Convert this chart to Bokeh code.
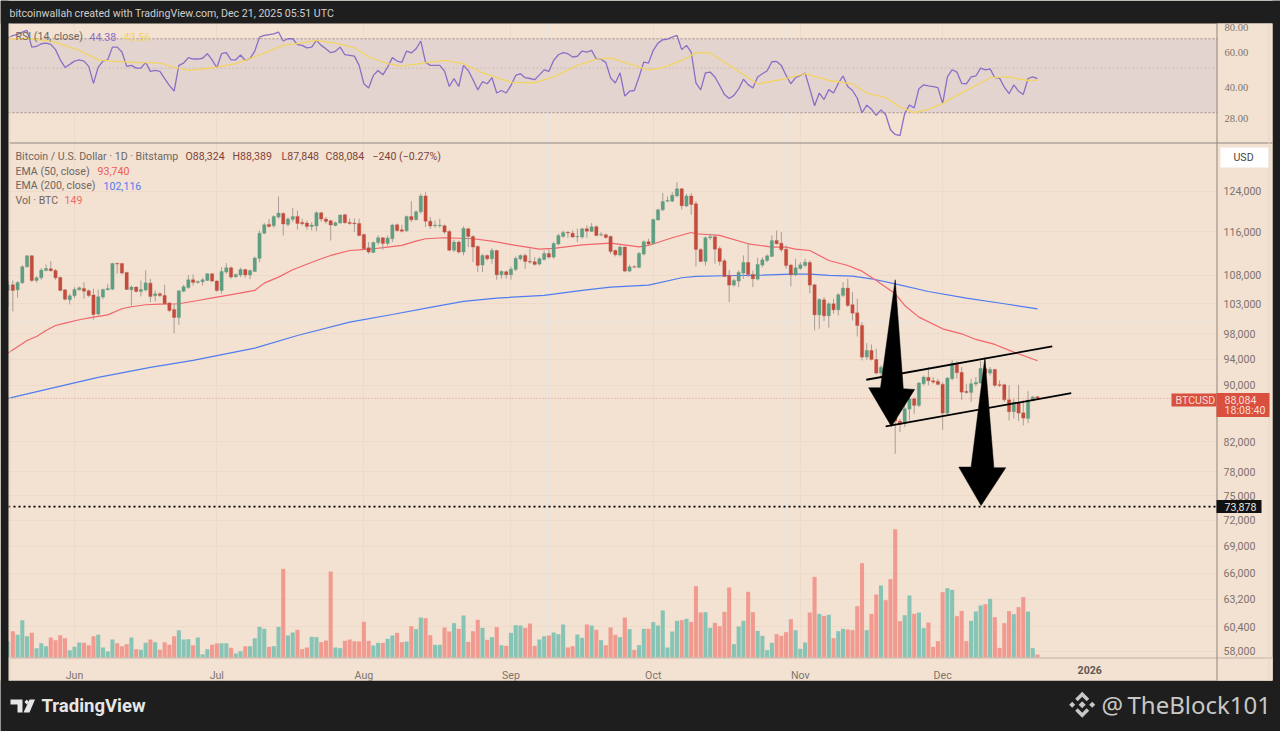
from bokeh.embed import file_html
from bokeh.resources import INLINE
from bokeh.plotting import figure
from bokeh.models import (Range1d, LogScale, LinearScale, FixedTicker, NumeralTickFormatter, BoxAnnotation,
                          Label, LabelSet, ColumnDataSource, PolyAnnotation, LogAxis, LinearAxis, Grid)

# ---------- data ----------
first_day = -14   # days relative to 1 Jun 2025; one candle per day
opens = [105300,106270,105400,106630,109490,111500,107040,107520,108830,109130,108830,107580,105400,103670,
104370,105400,105640,105230,104480,101250,104140,105400,105520,110100,
110100,108470,105400,105870,105110,105350,106570,104370,104710,104430,
103110,102030,100700,105170,105810,107160,106700,106810,107040,108230,
106930,105290,108530,109310,107700,108000,109010,108000,108650,111020,
115750,117440,117180,118870,119590,117440,118420,119000,117820,117700,
117050,117110,119720,118480,118140,117240,117700,119320,117820,117700,
117630,115500,112990,112120,113980,114870,113790,114680,117370,116400,
116200,119000,118330,119910,123100,118070,117180,117180,117180,116070,
112540,114050,112180,116590,115130,113230,109800,111560,110950,112480,
108050,108590,108050,109010,110950,111560,110460,110400,109980,110830,
111930,111260,113670,115130,115950,115750,115000,115000,116590,116070,
116990,115380,115440,115130,112480,111630,113110,108710,109490,109370,
111810,114110,113790,118300,120300,122040,122040,123100,124540,121040,
123100,121500,112660,110460,114870,115060,112860,110580,107940,106220,
106930,108350,110280,108110,107280,109800,110640,111380,114360,113850,
112730,109800,108050,109190,109730,110280,106270,101130,103680,100970,
103000,101970,104430,105700,102830,101470,99370,94310,95350,93940,
91850,92720,91250,86350,84830,84470,86540,88030,87070,90250,
91200,90690,90590,90150,85970,91000,93180,91950,89100,88950,
90200,90350,92510,91850,92400,90100,90100,87880,86160,87550,
86010,85210,87790,88324]
closes = [106280,105290,106700,109490,111500,107040,107520,108890,109190,108770,107520,105290,103790,104370,
105460,105750,105170,104430,101190,104200,105460,105640,110100,109980,
108350,105460,105870,105110,105460,106630,104250,104710,104430,103000,
101860,100700,105230,105930,107160,106700,106870,107160,108230,106930,
105290,108650,109310,107640,108110,109010,108000,108830,111080,115750,
117370,117050,119000,119650,117500,118480,119000,117630,117570,117050,
117310,119720,118480,118020,117310,117760,119260,117760,117630,117570,
115310,112800,112180,113980,114870,113790,114810,117310,116260,116130,
119000,118330,119910,123100,118070,117110,117310,117310,115950,112540,
114050,112180,116660,115130,113110,109730,111560,110950,112480,108050,
108650,108050,109070,111020,111560,110460,110340,109920,110950,111930,
111260,113790,115310,115880,115820,115000,115130,116590,116130,116990,
115310,115500,114930,112290,111690,113110,108710,109490,109430,111930,
114110,113670,118400,120300,121970,122170,123250,124540,121100,123100,
121370,112660,110460,114870,115060,112730,110460,107760,106220,107040,
108470,110280,108110,107340,109920,110760,111500,114360,113730,112600,
109730,108050,109310,109850,110340,106220,101130,103740,100970,103000,
101970,104540,105700,102710,101410,99370,94310,95350,93940,91850,
92720,91350,86350,84830,84370,86590,88030,87070,90350,91250,
90690,90490,90150,85970,91100,93380,91900,89000,88950,90250,
90450,92570,91850,92400,90000,90000,87880,86160,87550,85970,
85260,87790,88300,88084]
highs = [107000,107040,106930,109800,111630,111630,107760,109250,109920,110520,109070,107760,105520,104710,
105870,105990,106750,105460,105580,105400,105580,106450,110220,110220,
110160,108590,106160,105990,107040,108830,107340,105290,105000,106270,
103280,103000,105290,106270,108000,108110,107040,107520,108350,108350,
107160,109430,110160,109550,108230,109310,109130,108950,111380,116260,
117700,118530,119200,122970,119780,118870,120700,120170,118530,118200,
117890,120040,119910,118870,118330,118010,119390,119520,118600,118600,
118530,115630,114050,114170,115310,115000,115310,117570,117570,117370,
119130,122040,120170,123520,123860,118870,118200,118530,117440,116400,
114490,114360,117050,116790,115310,113420,111870,111750,112920,112600,
108830,108830,109550,111380,111750,111870,112800,111260,111260,112480,
112800,114050,115630,116260,116070,116260,116590,116790,117240,117700,
117240,115950,115630,115310,112660,113420,113230,109850,109730,112180,
114360,114680,118530,120500,123720,123000,123860,125930,124750,123520,
123660,122040,112920,115130,115630,115500,113230,110950,108950,107340,
108830,111560,113850,108830,111140,111260,111750,115310,116260,115950,
113420,110040,110950,110340,110950,110640,106450,103970,104140,103280,
103850,104830,106750,107340,105000,103850,99920,96510,96300,95620,
93020,94050,93020,86830,85160,87310,89250,88270,90490,91500,
92770,91250,91000,90490,91250,93890,93690,92770,90250,91000,
91250,93690,94050,92770,92510,90740,90250,90000,88030,90100,
87790,89150,88390,88389]
lows = [102500,101700,104030,106450,109310,106750,106700,107160,108650,108650,107160,105170,103560,102890,
103970,105290,103850,104140,100310,101020,103790,105290,105400,108230,
108110,105400,102660,104940,104250,105110,103280,103390,104140,102890,
101580,98120,99480,104940,105580,106160,106450,106160,106930,106750,
105050,104710,108230,107340,107520,107640,107520,107280,108530,110340,
115500,116790,116790,118530,115310,117050,117870,116400,117240,116400,
116260,116130,117950,117570,114360,117050,117570,117570,117370,116000,
115130,112600,111870,112000,113540,112600,113420,114050,115950,115880,
115950,117890,118200,119520,116920,116590,116790,116790,115630,112350,
112180,111870,111560,113110,110340,108530,108530,110640,110040,107160,
107340,107340,107160,108710,110640,109130,110040,109730,109730,110640,
110950,110950,113420,114870,114870,114870,114050,114680,114870,115950,
115130,115130,114680,111870,111380,111380,108530,108530,109250,109250,
111560,113420,113600,118200,120040,121840,121840,122840,120370,120840,
119320,109550,110340,109730,114490,110040,109730,107640,103280,105990,
105870,107340,107640,105870,107040,109430,110340,111260,113600,112180,
109130,105990,107820,108950,109430,104830,98550,98820,100090,98990,
101300,101020,104140,102430,100200,97580,93790,93890,93790,91650,
91250,88270,85400,80380,83310,84000,84930,85870,86830,90000,
90000,90250,90000,83630,85770,90740,91000,87880,88760,87550,
89850,90250,90250,91500,89750,89750,87550,84930,85160,84830,
84230,84560,87640,87848]
volumes = [797,1311,1129,1859,1062,1228,465,714,564,996,863,1112,963,365,531,747,730,614,1062,1129,498,299,896,714,564,664,996,415,382,730,
896,764,382,764,631,1062,1361,896,913,614,996,166,415,631,697,714,714,481,199,315,564,564,963,1527,1428,531,564,1527,4416,1096,
1245,1378,415,498,1029,1013,764,847,4283,498,465,830,896,813,797,1776,830,598,730,730,930,1096,1228,764,797,1560,1411,1992,1959,1112,
631,631,1494,1295,1710,1428,2092,780,1311,1876,1477,880,1013,1511,614,581,1228,1610,1594,1477,1693,581,896,1062,1096,1245,1162,1643,498,564,
1145,979,1643,1594,1378,863,614,1494,1129,1013,1992,1411,382,614,1428,1428,1760,1594,2341,498,1295,1826,1859,1926,1776,3552,2241,2258,1477,1726,
1560,2274,3486,664,1544,1826,3270,2258,1328,1079,365,730,1162,1079,1262,1909,1361,432,747,2241,4017,2175,2075,2125,963,1311,1428,1394,1361,2556,
4698,1361,2175,3137,3586,2855,3901,6391,1809,2108,3088,2175,2241,1461,1743,531,813,3254,3453,3370,2058,2324,813,1826,2291,2590,2656,2922,2009,481,
1710,2307,2158,2507,3005,2291,465,149]

ema50_days = [-14,-10,-8,-6,-4,-2,1,4,7,10,12,15,18,22,26,30,34,38,40,43,46,51,54,58,60,63,66,69,72,74,78,84,88,93,98,101,107,113,119,121,126,130,131,136,142,147,150,152,155,159,163,166,169,173,175,178,183,187,190,194,198,203]
ema50_vals = [94930,96940,97580,98550,99370,99760,100310,100750,101130,102150,102490,102830,102950,103000,103560,104140,104710,105290,106570,107640,108950,110640,111560,112480,112600,112800,113110,113420,114230,114680,114870,114680,114230,113420,112730,112860,113540,113850,113170,113420,114870,115880,115630,115310,113730,113110,113110,112730,112480,110640,109730,108700,107040,104710,102710,100750,98820,98010,97100,96300,95090,93740]
ema200_days = [-14,-5,5,16,25,38,47,58,67,75,82,89,99,107,113,121,128,131,137,145,151,155,159,164,168,173,180,188,196,203]
ema200_vals = [88080,89550,91190,92710,93790,95720,97740,99920,101190,102370,103400,103970,104430,105290,105870,106220,107520,107760,107880,108000,108170,108170,107940,107820,107340,106450,105110,103970,103000,102116]

rsi_days = list(range(-14, 204))
rsi_vals = [70.8,72.5,73.6,75.5,77.0,63.6,64.1,66.1,66.6,65.6,61.8,55.0,50.4,52.2,
54.2,55.0,54.2,51.0,42.0,50.6,54.2,55.0,63.6,63.6,60.1,51.0,51.6,50.0,50.0,53.4,
48.2,48.7,48.2,44.3,41.0,38.4,51.6,53.0,56.4,55.5,55.5,56.0,59.0,55.0,50.2,59.0,59.7,55.0,55.0,58.1,
54.6,55.7,60.8,71.3,72.7,73.3,74.1,75.6,68.2,70.0,70.0,65.4,64.9,63.1,63.6,68.7,64.9,62.4,59.7,60.6,
63.6,58.3,57.9,57.4,51.6,41.8,39.8,46.0,48.7,46.3,50.6,56.4,54.2,53.4,60.8,59.5,62.4,68.2,53.4,51.6,
51.6,51.6,48.3,40.5,44.3,40.5,51.6,48.7,43.8,39.0,42.8,41.8,44.8,37.6,38.7,37.6,41.0,46.0,46.9,44.8,
44.4,43.8,46.3,49.0,48.2,54.6,58.3,59.7,59.0,56.8,57.3,60.8,60.0,61.3,55.5,55.3,53.4,44.8,42.2,47.4,
36.3,38.4,38.7,45.2,53.6,53.0,61.3,66.6,69.2,69.7,71.3,72.7,61.8,64.9,60.1,42.2,39.0,47.4,47.8,45.2,
41.0,37.0,35.3,36.6,39.4,44.0,41.4,39.8,45.2,46.9,48.5,53.8,54.0,51.6,46.0,41.8,44.8,46.0,47.3,39.4,
32.5,37.6,34.9,39.1,37.6,42.0,45.7,40.5,38.7,35.4,30.0,32.7,31.2,29.1,31.0,29.3,24.7,23.4,23.1,29.7,
32.8,31.7,39.5,41.3,40.8,40.5,40.0,33.3,45.2,49.1,47.8,42.0,41.7,45.2,45.7,50.0,49.0,49.6,44.8,44.6,
40.2,37.3,41.3,38.4,37.0,44.4,45.2,44.38]
rsima_days = [-14,-9,-4,1,5,8,13,18,21,24,27,30,34,37,41,44,48,51,55,59,62,66,69,75,78,82,86,92,97,101,106,110,113,116,121,124,128,131,134,138,144,149,154,159,164,167,171,174,177,180,183,186,190,193,197,201,203]
rsima_vals = [70,70,67.4,61.3,55,54.2,53.4,53,50.6,48.7,49.5,50.6,52.6,55.7,60.8,64.9,66.8,68.7,66.6,63.1,56.8,52.6,51.2,53.5,54.6,52.6,47.3,42.5,42.3,45.2,51.6,55.3,56.2,53.4,49.0,50.2,54.6,59.7,59.5,51.6,41.8,43.8,46.9,43.4,41.8,37.6,35.7,32.0,30,31.2,33.3,36.6,41,44.8,45.2,43.4,43.56]

upper_days, upper_prices = [166.9, 206.1], [90840, 95980]
lower_days, lower_prices = [171.0, 210.1], [84100, 88850]
arrow1_days = [173.0,174.7,177.1,172.2,167.4,169.9]
arrow1_prices = [107160,89500,89400,84100,89650,89650]
arrow2_days = [191.9,193.8,196.3,191.1,186.4,189.0]
arrow2_prices = [94200,78550,78550,73790,78630,78630]
target_price = 73650
last_price = 88084
rsi_levels = [70, 50, 30]

price_ticks = [124000,116000,108000,103000,98000,94000,90000,82000,78000,75000,72000,69000,66000,63200,60400,58000]
rsi_ticks = [80,60,40,28]
rsi_tick_labels = ["80.00","60.00","40.00","28.00"]
month_ticks = [0,30,61,92,122,153,183]
month_labels = ["Jun","Jul","Aug","Sep","Oct","Nov","Dec"]

# ---------- styles ----------
BG = "#f3e1d2"; DARK = "#1e1e1e"; TXT = "#6f6761"; AX = "#7d746d"
UP = "#5f9e80"; DOWN = "#c34c3c"; WICK = "#a89e96"
VUP = "#87c4b5"; VDOWN = "#f09a90"
FONT = "Roboto"; FS = "10.6px"

W, H = 1280, 731
def day_at(px): return (px - 74) / 4.744

p = figure(width=W, height=H, output_backend="svg", toolbar_location=None,
           x_range=Range1d(day_at(0), day_at(W)),
           y_range=Range1d(50790, 170030), y_axis_type="log", x_axis_location=None, y_axis_location=None,
           min_border=0, background_fill_color=BG, outline_line_color=None)
p.extra_y_ranges = {"rsi": Range1d(0.02505, 108.5), "vol": Range1d(-3685, 32719)}
p.extra_y_scales = {"rsi": LogScale(), "vol": LinearScale()}

p.add_layout(Grid(dimension=0, ticker=FixedTicker(ticks=month_ticks), grid_line_color="#eddac9", level="underlay"))
p.add_layout(Grid(dimension=1, ticker=FixedTicker(ticks=price_ticks), grid_line_color="#eddac9", level="underlay"))

def box(l, t, r, b, color, level="underlay", alpha=1.0):
    a = BoxAnnotation(left=l, right=r, top=t, bottom=b, left_units="canvas", right_units="canvas",
                      top_units="canvas", bottom_units="canvas", fill_color=color, fill_alpha=alpha,
                      line_color=None, level=level)
    p.add_layout(a); return a

def text(x, y, s, color=TXT, size=FS, font=FONT, style="normal", align="left", level="overlay"):
    p.add_layout(Label(x=x, y=y, x_units="canvas", y_units="canvas", text=s, text_color=color,
                       text_font=font, text_font_size=size, text_font_style=style, text_align=align,
                       text_baseline="middle", level=level))

def poly(xs, ys, color):
    p.add_layout(PolyAnnotation(xs=list(xs), ys=list(ys), xs_units="canvas", ys_units="canvas",
                                fill_color=color, fill_alpha=1.0, line_color=None, level="overlay"))

# frame, strips
box(0, 0, W, 23, DARK)
box(0, 680, W, H, DARK)
box(1272, 0, W, H, DARK)
box(1217, 23, 1272, 680, BG)
box(8, 657, 1272, 680, BG)
p.add_layout(BoxAnnotation(left=8, right=1217, left_units="canvas", right_units="canvas",
                           bottom=30, top=70, y_range_name="rsi",
                           fill_color="#e4d4cf", fill_alpha=1.0, line_color=None, level="underlay"))

# axes held at fixed positions inside the single frame
ya = LogAxis(ticker=FixedTicker(ticks=price_ticks), formatter=NumeralTickFormatter(format="0,0"),
             fixed_location=day_at(1217), major_tick_line_color=None, minor_tick_line_color=None, axis_line_color=None,
             major_label_text_color=AX, major_label_text_font=FONT, major_label_text_font_size=FS,
             major_label_standoff=0)
p.add_layout(ya, "right")
xa = LinearAxis(ticker=FixedTicker(ticks=month_ticks), major_label_overrides=dict(zip(month_ticks, month_labels)),
                fixed_location=50790*(170030/50790)**((731-657)/731), major_tick_line_color=None, minor_tick_line_color=None,
                axis_line_color=None, major_label_text_color=AX, major_label_text_font=FONT,
                major_label_text_font_size=FS, major_label_standoff=5)
p.add_layout(xa, "below")

xs = [first_day + k for k in range(len(closes))]
up = [c >= o for o, c in zip(opens, closes)]
src = ColumnDataSource(dict(x=xs, o=opens, h=highs, l=lows, c=closes, v=volumes,
                            top=[max(a, b) for a, b in zip(opens, closes)],
                            bot=[min(a, b) for a, b in zip(opens, closes)],
                            col=[UP if u else DOWN for u in up],
                            vcol=[VUP if u else VDOWN for u in up]))
left, right = day_at(8), day_at(1217)

for lv, al in zip(rsi_levels, (0.9, 0.35, 0.9)):
    p.line([left, right], [lv, lv], y_range_name="rsi", line_color="#948a84", line_dash=[2, 2], line_width=1, line_alpha=al)

p.vbar(x="x", top="v", bottom=0, width=0.86, fill_color="vcol", line_color=None, y_range_name="vol", source=src)
p.line(rsi_days, rsi_vals, y_range_name="rsi", line_color="#8a6fc6", line_width=1.3)
p.line(rsima_days, rsima_vals, y_range_name="rsi", line_color="#f2d463", line_width=1.3)
p.line(ema200_days, ema200_vals, line_color="#4f7df0", line_width=1.2)
p.line(ema50_days, ema50_vals, line_color="#f2656a", line_width=1.2)
p.segment(x0="x", x1="x", y0="l", y1="h", line_color=WICK, line_width=1, source=src)
p.vbar(x="x", top="top", bottom="bot", width=0.7, fill_color="col", line_color="col", line_width=0.3, source=src)

p.line([left, day_at(1171)], [last_price, last_price], line_color="#e0705f", line_dash=[1, 2], line_width=1, line_alpha=0.6)
p.line(upper_days, upper_prices, line_color="#000000", line_width=1.8)
p.line(lower_days, lower_prices, line_color="#000000", line_width=1.8)
p.patch(arrow1_days, arrow1_prices, fill_color="#000000", line_color="#000000", line_width=0.5)
p.patch(arrow2_days, arrow2_prices, fill_color="#000000", line_color="#000000", line_width=0.5)
p.line([left, right], [target_price, target_price], line_color="#000000", line_dash=[2, 3], line_width=1.6)

# margins that hide the half candle at the left edge, pane borders
box(0, 0, 8, H, DARK, level="annotation")
box(8, 142, 1272, 143, "#8d8781", level="annotation")
box(9, 657, 1272, 658, "#c3b2a6", level="annotation")
box(1216, 23, 1217, 680, "#8f857b", level="annotation")
box(1268, 23, 1269, 680, "#e8d5c6", level="annotation")
box(9, 23, 10, 680, "#e8d5c6", level="annotation")

# rsi tick labels on the rsi scale
p.add_layout(LabelSet(source=ColumnDataSource(dict(x=[1224]*4, y=rsi_ticks, t=rsi_tick_labels)), x="x", y="y", text="t",
                      x_units="canvas", y_units="data", y_range_name="rsi", text_color=AX, text_font=FONT,
                      text_font_size=FS, text_baseline="middle", level="overlay"))

# 2026 tick label
p.add_layout(Label(x=214, y=669, x_units="data", y_units="canvas", text="2026", text_color="#5f5751",
                   text_font=FONT, text_font_size=FS, text_font_style="bold", text_align="center", text_baseline="middle"))

# price tags
box(1171, 393, 1216, 406, "#d9503f", level="overlay")
box(1216, 392.5, 1269, 416.5, "#d9503f", level="overlay")
text(1175, 399.5, "BTCUSD", "#f8dcd4")
text(1224, 399, "88,084", "#f8dcd4")
text(1224, 409.5, "18:08:40", "#f8dcd4")
box(1216, 499.5, 1261, 512.5, "#111111", level="overlay")
text(1224, 506, "73,878", "#e8e4e0")
box(1220, 147, 1268, 167, "#ffffff", level="overlay")
text(1233, 156.5, "USD", "#4a4541")

# header and legends
text(9, 13, "bitcoinwallah created with TradingView.com, Dec 21, 2025 05:51 UTC", "#cfcfcf")
text(15, 36, "RSI (14, close)", TXT)
text(89, 36, "44.38", "#8a6fc6")
text(123, 36, "43.56", "#f2d463")
text(15, 156, "Bitcoin / U.S. Dollar · 1D · Bitstamp", TXT)
for x, s in ((185, "O88,324"), (232, "H88,389"), (281, "L87,848"), (325, "C88,084"), (372, "−240 (−0.27%)")):
    text(x, 156, s, "#7f4538")
text(15, 170.5, "EMA (50, close)", TXT); text(97, 170.5, "93,740", "#ee5a55")
text(15, 185, "EMA (200, close)", TXT); text(103, 185, "102,116", "#4f7df0")
text(15, 199.5, "Vol · BTC", TXT); text(64, 199.5, "149", "#ee6a62")

# footer
poly([10, 22, 22, 17, 17, 10], [699, 699, 712, 712, 704, 704], "#e6e6e6")
poly([24, 26.2, 28.5, 26.2], [701.5, 699, 701.5, 704], "#e6e6e6")
poly([29, 34.5, 29, 23], [699, 699, 712, 712], "#e6e6e6")
text(41, 705, "TradingView", "#e6e6e6", size="18.5px", font="Roboto", style="bold")
cx, cy = 1081.7, 704.3
poly([cx-13, cx-10, cx-7, cx-10], [cy, cy-3, cy, cy+3], "#c8c8c6")
poly([cx+13, cx+10, cx+7, cx+10], [cy, cy-3, cy, cy+3], "#c8c8c6")
poly([cx-3.5, cx, cx+3.5, cx], [cy, cy-3.5, cy, cy+3.5], "#c8c8c6")
poly([cx, cx+7, cx+4.5, cx, cx-4.5, cx-7], [cy-13, cy-6, cy-3.5, cy-8, cy-3.5, cy-6], "#c8c8c6")
poly([cx, cx+7, cx+4.5, cx, cx-4.5, cx-7], [cy+13, cy+6, cy+3.5, cy+8, cy+3.5, cy+6], "#c8c8c6")
text(1101, 704, "@", "#c8c8c6", size="24px", font="Noto Sans")
text(1127, 704, "TheBlock101", "#c8c8c6", size="24px", font="Noto Sans")

open("out.html", "w").write(file_html(p, INLINE))
